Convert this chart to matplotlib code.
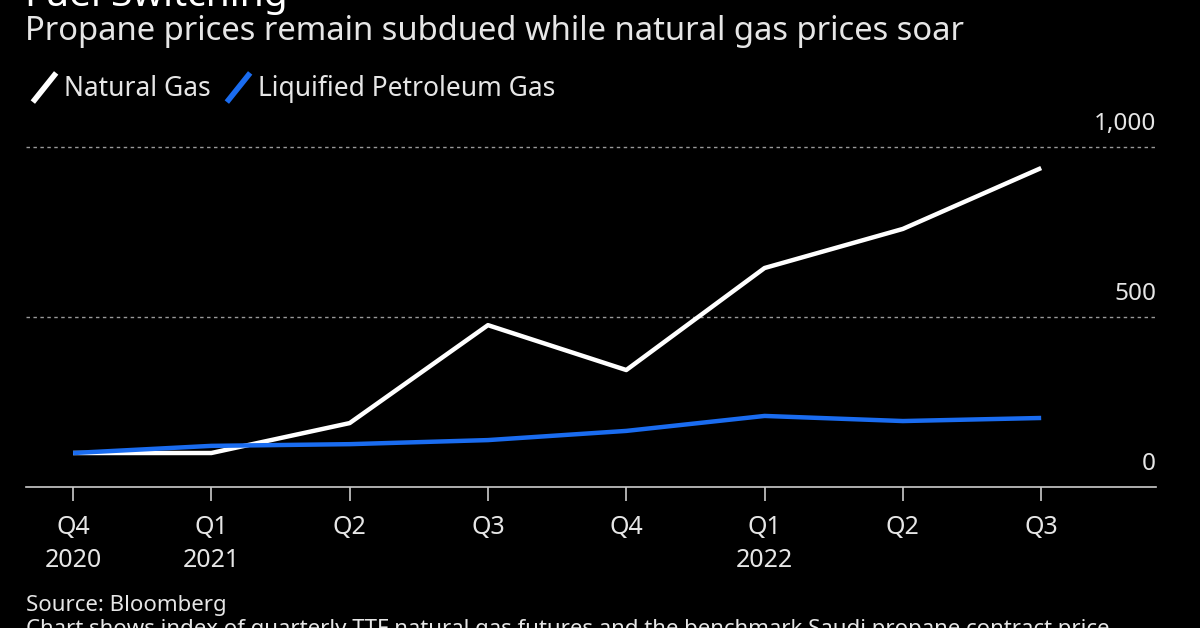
import matplotlib
matplotlib.use("Agg")
import matplotlib.pyplot as plt
from matplotlib.lines import Line2D
from matplotlib.path import Path
import matplotlib.transforms as mtransforms

plt.rcParams['font.family'] = ['Noto Sans', 'DejaVu Sans']

# quarterly index values
quarters = ["Q4\n2020", "Q1\n2021", "Q2", "Q3", "Q4", "Q1\n2022", "Q2", "Q3"]
natural_gas = [100, 100, 188, 476, 344, 644, 759, 938]
lpg = [100, 121, 126, 138, 165, 209, 194, 203]
y_ticks = [0, 500, 1000]
y_labels = ["0", "500", "1,000"]

bg = 'black'
txt = '#e6e6e6'
blue = '#1a6cf0'

fig = plt.figure(figsize=(12, 6.28), dpi=100, facecolor=bg)
ax = fig.add_axes([0.0217, 0.2245, 0.9416, 0.5415])
ax.set_facecolor(bg)

x = list(range(len(quarters)))
ax.plot(x, natural_gas, color='white', lw=3.2, solid_capstyle='butt', zorder=3)
ax.plot(x, lpg, color=blue, lw=3.2, solid_capstyle='butt', zorder=4)

ax.set_xlim(-0.34, 7.83)
ax.set_ylim(0, 1000)

for s in ['top', 'right', 'left']:
    ax.spines[s].set_visible(False)
ax.spines['bottom'].set_color('#cccccc')
ax.spines['bottom'].set_linewidth(1.2)

ax.set_xticks(x)
ax.set_xticklabels(quarters, color=txt, fontsize=18, linespacing=1.45)
ax.tick_params(axis='x', length=10, width=1.2, color='#cccccc', pad=10)
ax.set_yticks([])

# gridlines with labels sitting above them on the right
trans = mtransforms.blended_transform_factory(ax.transAxes, ax.transData)
for v, lab in zip(y_ticks, y_labels):
    if v > 0:
        ax.axhline(v, color='#999999', lw=1, ls=(0, (2.5, 2.5)), zorder=1, clip_on=False)
    ax.text(1.0, v + 32, lab, transform=trans, ha='right', va='bottom',
            color=txt, fontsize=17.5)

# legend with slanted strokes
slash = Path([(-0.8, -1), (0.8, 1)], [Path.MOVETO, Path.LINETO])
handles = [
    Line2D([], [], color='white', marker=slash, linestyle='None', markersize=21,
           markeredgewidth=4, markeredgecolor='white'),
    Line2D([], [], color=blue, marker=slash, linestyle='None', markersize=21,
           markeredgewidth=4, markeredgecolor=blue),
]
fig.legend(handles, ["Natural Gas", "Liquified Petroleum Gas"], loc='center left',
           bbox_to_anchor=(0.006, 1 - 89 / 628), ncol=2, frameon=False,
           fontsize=19, labelcolor=txt, handlelength=1.0, handletextpad=0.25,
           columnspacing=0.55)

fig.text(0.021, 1 - 6 / 628, "Fuel Switching", color='white', fontsize=28,
         fontweight='bold', va='baseline', ha='left')
fig.text(0.021, 1 - 32 / 628, "Propane prices remain subdued while natural gas prices soar",
         color=txt, fontsize=23.6, va='center', ha='left')
fig.text(0.022, 1 - 606 / 628, "Source: Bloomberg", color=txt, fontsize=16,
         va='center', ha='left')
fig.text(0.022, 1 - 619 / 628,
         "Chart shows index of quarterly TTF natural gas futures and the benchmark Saudi propane contract price",
         color=txt, fontsize=16, va='top', ha='left')

fig.savefig("out.png", dpi=100, facecolor=bg)
